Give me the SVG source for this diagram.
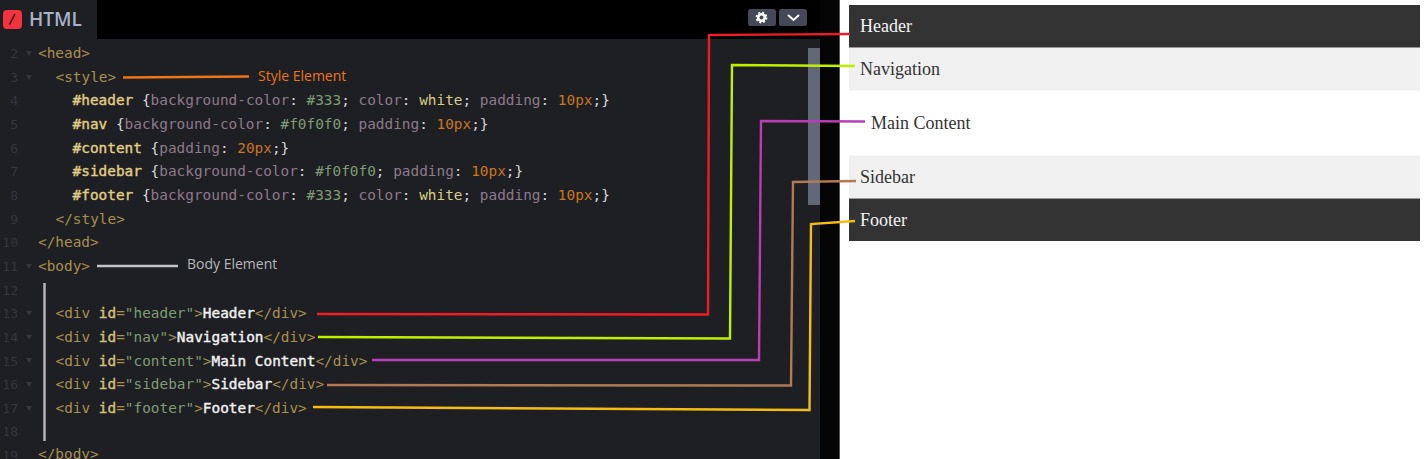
<svg xmlns="http://www.w3.org/2000/svg" width="1427" height="459" viewBox="0 0 1427 459">
<style>
.c{font-family:"DejaVu Sans Mono","Liberation Mono",monospace;font-size:14.4px;fill:#d8d8d8;white-space:pre}
.n{font-family:"DejaVu Sans Mono","Liberation Mono",monospace;font-size:13px;fill:#34363b;text-anchor:end}
.t{fill:#a88f52}.s{fill:#e0ce85;stroke:#e0ce85;stroke-width:.4}.p{fill:#8d7a8c}.v{fill:#7f9c76}.o{fill:#c9761f}.w{fill:#f2f2f2;stroke:#f2f2f2;stroke-width:.4}.a{fill:#d2c27c;stroke:#d2c27c;stroke-width:.4}.y{fill:#d9cd85}
.f{fill:#34363b}
.ann{font-family:"Open Sans","Noto Sans",sans-serif;font-size:14px}
.r{font-family:"Liberation Serif",serif;font-size:18px}
.l{fill:none;stroke-width:2.4}
</style>
<rect width="1427" height="459" fill="#fff"/>
<g id="editor">
<rect width="820" height="459" fill="#1d1f23"/>
<rect width="820" height="39" fill="#000"/>
<rect x="820" width="20" height="459" fill="#050505"/>
<rect x="839" width="1" height="459" fill="#555"/>
<rect width="97" height="39" fill="#1d1f23"/>
<rect x="3" y="10" width="19" height="19" rx="4" fill="#f5333f"/>
<path d="M9.500 24.500L15 14" stroke="#2a1115" stroke-width="1.500" fill="none"/>
<text x="29" y="26" font-family="Open Sans,Noto Sans,sans-serif" font-size="19" font-weight="600" fill="#a9b2c9">HTML</text>
<rect x="748" y="9" width="28" height="17" rx="2.500" fill="#444857"/>
<rect x="779" y="9" width="28" height="17" rx="2.500" fill="#444857"/>
<circle cx="761.500" cy="17.500" r="3.300" fill="none" stroke="#fff" stroke-width="2.600"/>
<circle cx="761.500" cy="17.500" r="5" fill="none" stroke="#fff" stroke-width="1.800" stroke-dasharray="2 1.930"/>
<path d="M788 15l5.500 5 5.500-5" fill="none" stroke="#fff" stroke-width="2"/>
<rect x="808" y="48" width="12" height="157" fill="#636877"/>
</g>
<g id="line-numbers">
<text class="n" x="18" y="58">2</text><text class="n" x="18" y="82">3</text><text class="n" x="18" y="105">4</text><text class="n" x="18" y="129">5</text><text class="n" x="18" y="153">6</text><text class="n" x="18" y="176">7</text><text class="n" x="18" y="200">8</text><text class="n" x="18" y="224">9</text><text class="n" x="18" y="247">10</text><text class="n" x="18" y="271">11</text><text class="n" x="18" y="295">12</text><text class="n" x="18" y="318">13</text><text class="n" x="18" y="342">14</text><text class="n" x="18" y="366">15</text><text class="n" x="18" y="389">16</text><text class="n" x="18" y="413">17</text><text class="n" x="18" y="436">18</text><text class="n" x="18" y="460">19</text>
<g class="f"><path d="M26 51h6l-3 5z"/><path d="M26 75h6l-3 5z"/><path d="M26 264h6l-3 5z"/><path d="M26 311h6l-3 5z"/><path d="M26 335h6l-3 5z"/><path d="M26 358h6l-3 5z"/><path d="M26 382h6l-3 5z"/><path d="M26 406h6l-3 5z"/></g>
</g>
<g id="code">
<text class="c t" x="38" y="58">&lt;head&gt;</text>
<text class="c t" x="55.500" y="82">&lt;style&gt;</text>
<text class="c" x="72.600" y="105"><tspan class="s">#header</tspan> {<tspan class="p">background-color</tspan>: <tspan class="v">#333</tspan>; <tspan class="p">color</tspan>: <tspan class="y">white</tspan>; <tspan class="p">padding</tspan>: <tspan class="o">10px</tspan>;}</text>
<text class="c" x="72.600" y="129"><tspan class="s">#nav</tspan> {<tspan class="p">background-color</tspan>: <tspan class="v">#f0f0f0</tspan>; <tspan class="p">padding</tspan>: <tspan class="o">10px</tspan>;}</text>
<text class="c" x="72.600" y="153"><tspan class="s">#content</tspan> {<tspan class="p">padding</tspan>: <tspan class="o">20px</tspan>;}</text>
<text class="c" x="72.600" y="176"><tspan class="s">#sidebar</tspan> {<tspan class="p">background-color</tspan>: <tspan class="v">#f0f0f0</tspan>; <tspan class="p">padding</tspan>: <tspan class="o">10px</tspan>;}</text>
<text class="c" x="72.600" y="200"><tspan class="s">#footer</tspan> {<tspan class="p">background-color</tspan>: <tspan class="v">#333</tspan>; <tspan class="p">color</tspan>: <tspan class="y">white</tspan>; <tspan class="p">padding</tspan>: <tspan class="o">10px</tspan>;}</text>
<text class="c t" x="55.500" y="224">&lt;/style&gt;</text>
<text class="c t" x="38" y="247">&lt;/head&gt;</text>
<text class="c t" x="38" y="271">&lt;body&gt;</text>
<text class="c t" x="55.500" y="318">&lt;div <tspan class="a">id</tspan>=<tspan class="v">"header"</tspan>&gt;<tspan class="w">Header</tspan>&lt;/div&gt;</text>
<text class="c t" x="55.500" y="342">&lt;div <tspan class="a">id</tspan>=<tspan class="v">"nav"</tspan>&gt;<tspan class="w">Navigation</tspan>&lt;/div&gt;</text>
<text class="c t" x="55.500" y="366">&lt;div <tspan class="a">id</tspan>=<tspan class="v">"content"</tspan>&gt;<tspan class="w">Main Content</tspan>&lt;/div&gt;</text>
<text class="c t" x="55.500" y="389">&lt;div <tspan class="a">id</tspan>=<tspan class="v">"sidebar"</tspan>&gt;<tspan class="w">Sidebar</tspan>&lt;/div&gt;</text>
<text class="c t" x="55.500" y="413">&lt;div <tspan class="a">id</tspan>=<tspan class="v">"footer"</tspan>&gt;<tspan class="w">Footer</tspan>&lt;/div&gt;</text>
<text class="c t" x="38" y="459">&lt;/body&gt;</text>
</g>
<g id="annotations">
<text class="ann" x="258" y="81" fill="#e8741c">Style Element</text>
<text class="ann" x="187" y="269" fill="#b8b8b8">Body Element</text>
</g>
<g id="node-header"><rect x="849" y="5" width="571" height="42.500" fill="#333"/><text class="r" x="860" y="32" fill="#f5f5f5">Header</text></g>
<g id="node-nav"><rect x="849" y="48" width="571" height="42.500" fill="#f0f0f0"/><text class="r" x="860" y="75" fill="#333">Navigation</text></g>
<g id="node-content"><text class="r" x="871" y="129" fill="#333">Main Content</text></g>
<g id="node-sidebar"><rect x="849" y="155.500" width="571" height="42.500" fill="#f0f0f0"/><text class="r" x="860" y="183" fill="#333">Sidebar</text></g>
<g id="node-footer"><rect x="849" y="198.500" width="571" height="42.500" fill="#333"/><text class="r" x="860" y="226" fill="#f5f5f5">Footer</text></g>
<g id="connectors">
<path class="l" d="M123 77.500L249 76.500" stroke="#ee7518"/>
<path class="l" d="M97 266H178" stroke="#c4c4c4"/>
<path d="M44.500 283V441" fill="none" stroke="#b4b4b4" stroke-width="2.500"/>
<path class="l" d="M317 314L708 314.500L709 35L850 34" stroke="#ee1c25"/>
<path class="l" d="M318 337L730 338.500L732 65L855 66" stroke="#c0f000"/>
<path class="l" d="M372 360L759 360L761 121L865 121.500" stroke="#bb3db4"/>
<path class="l" d="M327 385L791 385.500L793 182L856 181" stroke="#b17a55"/>
<path class="l" d="M313 407L809.500 410L811 224L855 221" stroke="#f5bd14"/>
</g>
</svg>
